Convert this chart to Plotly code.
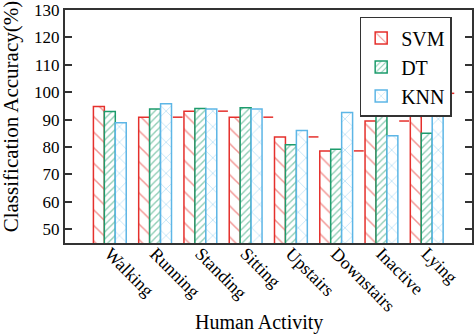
import plotly.graph_objects as go

activities = ["Walking", "Running", "Standing", "Sitting", "Upstairs", "Downstairs", "Inactive", "Lying"]
svm = [94.8, 90.9, 93.1, 90.9, 83.7, 78.6, 89.5, 99.6]
dt = [93.0, 93.9, 94.1, 94.3, 80.8, 79.2, 91.9, 85.0]
knn = [88.9, 95.8, 93.9, 93.9, 86.0, 92.6, 84.1, 100.2]
yticks = [50, 60, 70, 80, 90, 100, 110, 120, 130]

RED = "#e5302c"
GREEN = "#1d9c6c"
BLUE = "#5db6e6"
AX = "#333333"
FONT = "Liberation Serif"

x = list(range(len(activities)))

fig = go.Figure()
series = [("SVM", svm, RED, "\\", 11, 0.14),
          ("DT", dt, GREEN, "/", 5, 0.28),
          ("KNN", knn, BLUE, "x", 11, 0.12)]
for name, vals, col, shape, size, sol in series:
    fig.add_trace(go.Bar(
        x=x, y=vals, name=name,
        marker=dict(color="white",
                    line=dict(color=col, width=1.5),
                    pattern=dict(shape=shape, fgcolor=col, bgcolor="white",
                                 size=size, solidity=sol)),
    ))

# small red dashes following each group (at the SVM level), as in the original
fig.add_trace(go.Scatter(
    x=[i + 0.5 for i in x[1:]], y=svm[1:], mode="markers",
    marker=dict(symbol="line-ew", size=7, line=dict(color=RED, width=1.5)),
    showlegend=False, hoverinfo="skip", cliponaxis=False,
))

fig.update_layout(
    width=474, height=335,
    margin=dict(l=65, r=0, t=10, b=92),
    paper_bgcolor="white", plot_bgcolor="white",
    barmode="group", bargap=0.275, bargroupgap=0,
    font=dict(family=FONT, size=16, color="black"),
    showlegend=True,
    legend=dict(x=0.724, y=0.97, xanchor="left", yanchor="top",
                bgcolor="white", bordercolor=AX, borderwidth=1.5,
                font=dict(family=FONT, size=20, color="black"),
                tracegroupgap=0, itemwidth=30),
    xaxis=dict(range=[-0.99, 8.0], tickmode="array", tickvals=x, ticktext=activities,
               tickangle=45, showline=True, linecolor=AX, linewidth=2, mirror=True,
               ticks="", showgrid=False, zeroline=False, ticklabelstandoff=-9,
               tickfont=dict(family=FONT, size=18, color="black")),
    yaxis=dict(range=[45, 130], tickmode="array", tickvals=yticks,
               showline=True, linecolor=AX, linewidth=2, mirror="ticks",
               ticks="inside", ticklen=7, tickwidth=1.5, tickcolor=AX,
               showgrid=False, zeroline=False,
               tickfont=dict(family=FONT, size=17, color="black")),
    annotations=[
        dict(text="Classification Accuracy(%)", xref="paper", yref="paper",
             x=-0.132, y=0.545, xanchor="center", yanchor="middle", textangle=-90,
             showarrow=False, font=dict(family=FONT, size=21, color="black")),
        dict(text="Human Activity", xref="paper", yref="paper",
             x=0.477, y=-0.343, xanchor="center", yanchor="middle",
             showarrow=False, font=dict(family=FONT, size=20, color="black")),
    ],
)

fig.write_html("out.html")
